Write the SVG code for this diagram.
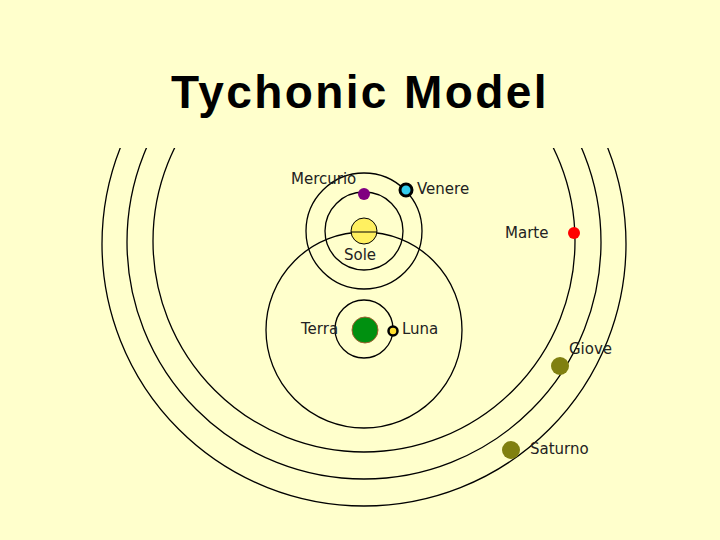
<svg xmlns="http://www.w3.org/2000/svg" width="720" height="540" viewBox="0 0 720 540">
<style>
.o{fill:none;stroke:#000;stroke-width:1.3}
.l{font-family:"DejaVu Sans",sans-serif;font-size:15px;fill:#222}
</style>
<defs><clipPath id="c"><rect x="0" y="148" width="720" height="392"/></clipPath></defs>
<rect width="720" height="540" fill="#FFFFCC"/>
<text x="360" y="108" text-anchor="middle" font-family="Liberation Sans,sans-serif" font-weight="bold" font-size="46" letter-spacing="2.4">Tychonic Model</text>
<g id="orbits">
<g clip-path="url(#c)">
<circle class="o" cx="364" cy="241" r="211"/>
<circle class="o" cx="364" cy="242" r="237"/>
<circle class="o" cx="364" cy="244" r="262"/>
</g>
<circle class="o" cx="364" cy="231" r="39"/>
<circle class="o" cx="364" cy="231" r="58"/>
<circle class="o" cx="364" cy="330" r="98"/>
<circle class="o" cx="364" cy="329" r="29"/>
</g>
<g id="sole"><circle cx="364" cy="231" r="13" fill="#FFF060" stroke="#000" stroke-width="1"/><line x1="351" y1="232" x2="377" y2="232" stroke="#000"/><text class="l" x="344" y="260">Sole</text></g>
<g id="mercurio"><circle cx="364" cy="194" r="6" fill="#800080"/><text class="l" x="291" y="184">Mercurio</text></g>
<g id="venere"><circle cx="406" cy="190" r="6" fill="#33CCEE" stroke="#000" stroke-width="3"/><text class="l" x="417" y="194">Venere</text></g>
<g id="terra"><circle cx="365" cy="330" r="13" fill="#009010" stroke="#A06030" stroke-width="1"/><text class="l" x="301" y="334">Terra</text></g>
<g id="luna"><circle cx="393" cy="331" r="4.5" fill="#FFE030" stroke="#000" stroke-width="2.5"/><text class="l" x="402" y="334">Luna</text></g>
<g id="marte"><circle cx="574" cy="233" r="6" fill="#FF0000"/><text class="l" x="505" y="238">Marte</text></g>
<g id="giove"><circle cx="560" cy="366" r="9" fill="#808010"/><text class="l" x="569" y="354">Giove</text></g>
<g id="saturno"><circle cx="511" cy="450" r="9" fill="#808010"/><text class="l" x="530" y="454">Saturno</text></g>
</svg>
